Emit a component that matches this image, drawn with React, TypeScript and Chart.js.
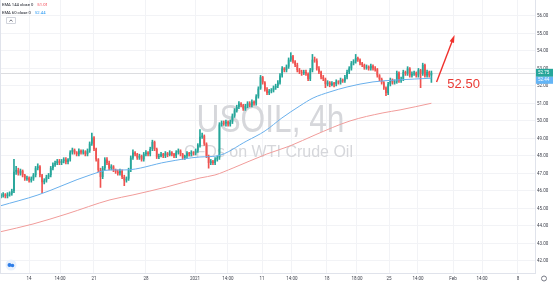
import React, { useEffect, useRef } from "react";
import { Chart, registerables } from "chart.js";
Chart.register(...registerables);

// ---- data (4h candles, USOIL) ----
const OPEN = [
  45.70, 45.75, 45.80, 45.70, 45.80, 45.85, 46.00, 47.10, 47.20, 47.00,
  47.15, 46.90, 46.70, 46.75, 46.60, 46.70, 46.90, 47.30, 47.40, 46.90,
  46.50, 46.60, 46.80, 46.90, 47.30, 47.50, 47.60, 47.70, 47.60, 47.70,
  47.80, 47.65, 47.80, 48.20, 48.35, 48.20, 48.10, 48.30, 48.20, 48.25,
  48.10, 48.30, 48.70, 49.05, 48.40, 47.80, 47.20, 46.80, 47.30, 47.80,
  47.60, 47.30, 47.40, 47.20, 47.10, 47.00, 47.15, 46.80, 46.60, 46.70,
  47.20, 47.90, 48.20, 48.10, 47.90, 48.00, 47.80, 48.10, 48.20, 48.10,
  48.40, 48.80, 48.40, 47.95, 48.00, 48.10, 48.00, 48.15, 48.05, 48.20,
  48.10, 48.00, 48.20, 48.30, 48.10, 47.90, 48.00, 48.15, 48.10, 48.20,
  48.15, 48.30, 48.60, 49.10, 49.15, 48.70, 48.00, 47.60, 47.70, 47.60,
  47.80, 47.90, 49.80, 49.90, 49.85, 49.95, 49.80, 49.95, 50.30, 50.60,
  50.80, 51.00, 50.90, 50.70, 50.85, 51.00, 50.90, 51.10, 51.00, 51.40,
  51.85, 52.50, 52.20, 51.80, 51.60, 51.70, 51.75, 51.90, 52.00, 52.20,
  52.60, 53.00, 52.90, 53.10, 53.50, 53.70, 53.40, 53.20, 52.90, 52.80,
  52.75, 52.80, 52.70, 52.40, 52.90, 53.50, 53.45, 53.00, 52.80, 52.50,
  52.40, 52.10, 52.20, 52.05, 52.15, 52.10, 52.25, 52.20, 52.35, 52.30,
  52.50, 52.80, 53.00, 53.30, 53.40, 53.60, 53.50, 53.30, 53.20, 53.05,
  53.10, 53.00, 53.15, 53.00, 52.95, 52.60, 52.40, 52.20, 51.90, 51.60,
  52.10, 52.35, 52.20, 52.25, 52.75, 52.30, 52.40, 52.80, 52.70, 53.00,
  52.60, 52.70, 52.75, 52.60, 52.90, 52.70, 53.20, 52.60, 52.80, 52.60,
];
const HIGH = [
  45.85, 45.90, 45.85, 45.90, 45.95, 46.10, 47.80, 47.40, 47.30, 47.25,
  47.20, 46.95, 46.85, 46.80, 46.80, 47.00, 47.40, 47.55, 47.45, 46.95,
  46.70, 46.90, 47.00, 47.40, 47.60, 47.70, 47.80, 47.80, 47.80, 47.90,
  47.90, 47.85, 48.30, 48.45, 48.40, 48.25, 48.40, 48.35, 48.35, 48.30,
  48.40, 48.80, 49.30, 49.10, 48.45, 47.85, 47.30, 47.40, 47.90, 47.90,
  47.70, 47.50, 47.45, 47.25, 47.20, 47.25, 47.20, 46.90, 46.80, 47.30,
  48.00, 48.35, 48.25, 48.15, 48.10, 48.05, 48.20, 48.30, 48.25, 48.50,
  48.90, 48.85, 48.45, 48.10, 48.20, 48.15, 48.25, 48.20, 48.30, 48.25,
  48.15, 48.30, 48.40, 48.35, 48.15, 48.05, 48.25, 48.20, 48.30, 48.25,
  48.40, 48.70, 49.50, 49.30, 49.20, 48.75, 48.05, 47.80, 47.75, 47.90,
  48.00, 49.90, 50.00, 50.00, 50.05, 50.00, 50.05, 50.40, 50.70, 50.90,
  51.10, 51.05, 50.95, 50.95, 51.10, 51.10, 51.20, 51.15, 51.50, 51.95,
  52.60, 52.55, 52.25, 51.90, 51.80, 51.85, 52.00, 52.10, 52.30, 52.70,
  53.10, 53.05, 53.20, 53.60, 53.90, 53.75, 53.45, 53.30, 53.00, 52.90,
  52.90, 52.90, 52.75, 53.00, 53.80, 53.65, 53.55, 53.10, 52.85, 52.60,
  52.45, 52.30, 52.25, 52.25, 52.20, 52.35, 52.30, 52.45, 52.40, 52.60,
  52.90, 53.10, 53.40, 53.50, 53.80, 53.65, 53.55, 53.35, 53.25, 53.20,
  53.15, 53.25, 53.20, 53.10, 53.00, 52.65, 52.45, 52.25, 51.95, 52.20,
  52.45, 52.40, 52.35, 52.85, 52.80, 52.50, 52.90, 52.85, 53.10, 53.05,
  52.80, 52.85, 52.80, 53.00, 52.95, 53.30, 53.25, 52.90, 52.85, 52.85,
];
const LOW = [
  45.60, 45.65, 45.60, 45.60, 45.70, 45.75, 45.90, 46.95, 46.90, 46.90,
  46.80, 46.60, 46.60, 46.50, 46.50, 46.60, 46.80, 47.20, 46.80, 45.90,
  46.40, 46.50, 46.70, 46.80, 47.20, 47.40, 47.50, 47.50, 47.50, 47.60,
  47.55, 47.55, 47.70, 48.10, 48.10, 48.00, 48.00, 48.10, 48.10, 48.00,
  48.00, 48.20, 48.60, 48.30, 47.70, 47.10, 46.20, 46.70, 47.20, 47.50,
  47.20, 47.20, 47.10, 47.00, 46.90, 46.90, 46.70, 46.30, 46.50, 46.60,
  47.10, 47.80, 48.00, 47.80, 47.80, 47.70, 47.70, 48.00, 48.00, 48.00,
  48.30, 48.30, 47.85, 47.85, 47.95, 47.90, 47.90, 47.95, 48.00, 48.00,
  47.90, 47.90, 48.10, 48.00, 47.80, 47.80, 47.90, 48.00, 48.00, 48.05,
  48.05, 48.20, 48.50, 49.00, 48.60, 47.90, 47.30, 47.50, 47.50, 47.50,
  47.70, 47.80, 49.70, 49.75, 49.70, 49.70, 49.70, 49.85, 50.20, 50.50,
  50.70, 50.80, 50.60, 50.60, 50.75, 50.80, 50.80, 50.90, 50.90, 51.30,
  51.80, 52.10, 51.70, 51.50, 51.50, 51.60, 51.65, 51.80, 51.90, 52.10,
  52.50, 52.80, 52.80, 53.00, 53.40, 53.30, 53.10, 52.80, 52.70, 52.60,
  52.65, 52.60, 52.30, 52.30, 52.80, 53.35, 52.90, 52.70, 52.40, 52.30,
  51.90, 52.00, 51.95, 52.00, 51.95, 52.00, 52.10, 52.10, 52.20, 52.20,
  52.40, 52.70, 52.90, 53.20, 53.30, 53.40, 53.20, 53.10, 52.95, 52.95,
  52.90, 52.90, 52.90, 52.85, 52.50, 52.30, 52.10, 51.80, 51.45, 51.50,
  52.00, 52.10, 52.10, 52.15, 52.20, 52.20, 52.30, 52.60, 52.60, 52.50,
  52.50, 52.60, 52.50, 52.50, 51.90, 52.60, 52.50, 52.50, 52.50, 52.20,
];
const CLOSE = [
  45.75, 45.80, 45.70, 45.80, 45.85, 46.00, 47.10, 47.20, 47.00, 47.15,
  46.90, 46.70, 46.75, 46.60, 46.70, 46.90, 47.30, 47.40, 46.90, 46.50,
  46.60, 46.80, 46.90, 47.30, 47.50, 47.60, 47.70, 47.60, 47.70, 47.80,
  47.65, 47.80, 48.20, 48.35, 48.20, 48.10, 48.30, 48.20, 48.25, 48.10,
  48.30, 48.70, 49.05, 48.40, 47.80, 47.20, 46.80, 47.30, 47.80, 47.60,
  47.30, 47.40, 47.20, 47.10, 47.00, 47.15, 46.80, 46.60, 46.70, 47.20,
  47.90, 48.20, 48.10, 47.90, 48.00, 47.80, 48.10, 48.20, 48.10, 48.40,
  48.80, 48.40, 47.95, 48.00, 48.10, 48.00, 48.15, 48.05, 48.20, 48.10,
  48.00, 48.20, 48.30, 48.10, 47.90, 48.00, 48.15, 48.10, 48.20, 48.15,
  48.30, 48.60, 49.10, 49.15, 48.70, 48.00, 47.60, 47.70, 47.60, 47.80,
  47.90, 49.80, 49.90, 49.85, 49.95, 49.80, 49.95, 50.30, 50.60, 50.80,
  51.00, 50.90, 50.70, 50.85, 51.00, 50.90, 51.10, 51.00, 51.40, 51.85,
  52.50, 52.20, 51.80, 51.60, 51.70, 51.75, 51.90, 52.00, 52.20, 52.60,
  53.00, 52.90, 53.10, 53.50, 53.70, 53.40, 53.20, 52.90, 52.80, 52.75,
  52.80, 52.70, 52.40, 52.90, 53.50, 53.45, 53.00, 52.80, 52.50, 52.40,
  52.10, 52.20, 52.05, 52.15, 52.10, 52.25, 52.20, 52.35, 52.30, 52.50,
  52.80, 53.00, 53.30, 53.40, 53.60, 53.50, 53.30, 53.20, 53.05, 53.10,
  53.00, 53.15, 53.00, 52.95, 52.60, 52.40, 52.20, 51.90, 51.60, 52.10,
  52.35, 52.20, 52.25, 52.75, 52.30, 52.40, 52.80, 52.70, 53.00, 52.60,
  52.70, 52.75, 52.60, 52.90, 52.70, 53.20, 52.60, 52.80, 52.60, 52.75,
];

// EMA lines (bar index, value)
const EMA60_X = [-0.5, 17.1, 41.2, 50.4, 57.3, 76.7, 92.0, 99.9, 113.7, 122.1, 129.9, 138.2, 144.3, 152.1, 160.0, 172.0, 183.1, 199];
const EMA60_Y = [45.14, 45.77, 46.91, 47.2, 47.2, 47.66, 47.94, 48.0, 48.86, 49.43, 50.17, 50.86, 51.31, 51.66, 51.94, 52.23, 52.34, 52.44];
const EMA144_X = [-0.5, 14.8, 30.5, 50.4, 61.0, 76.7, 92.0, 98.9, 107.3, 122.9, 133.6, 145.2, 161.4, 176.6, 184.5, 199];
const EMA144_Y = [43.66, 44.11, 44.69, 45.49, 45.77, 46.23, 46.74, 46.91, 47.31, 48.11, 48.57, 49.2, 50.0, 50.46, 50.63, 51.01];

const X_TICK_POS = [13, 27.3, 43.0, 67.0, 89.7, 104.9, 120.7, 134.5, 150.7, 164.6, 179.4, 192.8, 209.0, 222.4, 239.0];
const X_TICK_LABELS = ["14", "14:00", "21", "28", "2021", "14:00", "11", "14:00", "18", "18:00", "25", "14:00", "Feb", "14:00", "8"];
const Y_TICKS = [42, 43, 44, 45, 46, 47, 48, 49, 50, 51, 52, 53, 54, 55, 56, 57];

const LEGEND_NAMES = ["EMA 144 close 0", "EMA 60 close 0"];
const WATERMARK_TITLE = "USOIL, 4h";
const WATERMARK_SUB = "CFDs on WTI Crude Oil";
const TARGET_TEXT = "52.50";
const ARROW_FROM = [201.4, 52.23];
const ARROW_TO = [209.7, 54.91];
const TARGET_AT = [213.9, 52.06];

// ---- view / style ----
const X_MIN = -0.46;
const X_MAX = 246.9;
const Y_MIN = 41.31;
const Y_MAX = 56.91;
const GREEN = "#26a69a";
const RED = "#ef5350";
const EMA60_COLOR = "#6ab0ec";
const EMA144_COLOR = "#f19c9a";
const GRID = "#f2f3f6";
const AXIS_LINE = "#e0e3eb";
const TEXT = "#3c3f4a";
const FONT = "Roboto, 'Liberation Sans', Arial, sans-serif";

const overlay = {
  id: "overlay",
  beforeDatasetsDraw(chart: any) {
    const { ctx, chartArea, scales } = chart;
    ctx.save();
    const cx = (chartArea.left + chartArea.right) / 2;
    ctx.fillStyle = "#d6d7db";
    ctx.textBaseline = "alphabetic";
    ctx.textAlign = "center";
    ctx.font = `39px 'Liberation Sans', Arial, sans-serif`;
    const w = ctx.measureText(WATERMARK_TITLE).width;
    ctx.save();
    ctx.translate(cx + 3, 132);
    ctx.scale(148 / w, 1);
    ctx.fillText(WATERMARK_TITLE, 0, 0);
    ctx.restore();
    ctx.font = `16px 'Liberation Sans', Arial, sans-serif`;
    ctx.fillText(WATERMARK_SUB, cx + 1, 157);
    // last price line
    const yp = Math.round(scales.y.getPixelForValue(CLOSE[CLOSE.length - 1])) + 0.5;
    ctx.strokeStyle = "#dcdde0";
    ctx.lineWidth = 1;
    ctx.beginPath();
    ctx.moveTo(chartArea.left, yp);
    ctx.lineTo(chartArea.right, yp);
    ctx.stroke();
    ctx.restore();
  },
  afterDraw(chart: any) {
    const { ctx, chartArea, scales } = chart;
    ctx.save();
    // left frame line
    ctx.strokeStyle = AXIS_LINE;
    ctx.lineWidth = 1;
    ctx.beginPath();
    ctx.moveTo(0.5, 0);
    ctx.lineTo(0.5, chartArea.bottom);
    ctx.stroke();

    // legend
    ctx.font = `4.2px ${FONT}`;
    ctx.textAlign = "left";
    ctx.textBaseline = "middle";
    const vals = [EMA144_Y[EMA144_Y.length - 1], EMA60_Y[EMA60_Y.length - 1]];
    const vcol = ["#f23645", "#2196f3"];
    LEGEND_NAMES.forEach((name, i) => {
      const y = 4.5 + i * 8.5;
      ctx.fillStyle = "#131722";
      ctx.fillText(name, 2, y);
      const tw = ctx.measureText(name).width;
      ctx.fillStyle = vcol[i];
      ctx.fillText(vals[i].toFixed(2), 2 + tw + 4, y);
    });
    // collapse button
    ctx.strokeStyle = "#d1d4dc";
    ctx.beginPath();
    ctx.rect(6.5, 17.5, 9, 6);
    ctx.stroke();
    ctx.strokeStyle = "#787b86";
    ctx.beginPath();
    ctx.moveTo(9.5, 21.5);
    ctx.lineTo(11, 19.8);
    ctx.lineTo(12.5, 21.5);
    ctx.stroke();

    // price labels on axis
    const last = CLOSE[CLOSE.length - 1];
    const yp = scales.y.getPixelForValue(last);
    const bx = chartArea.right + 1;
    ctx.fillStyle = GREEN;
    ctx.fillRect(bx, yp - 4, 553 - bx, 8);
    ctx.fillStyle = "#64b5f6";
    ctx.fillRect(bx, yp + 4, 553 - bx, 7);
    ctx.fillStyle = "#ffffff";
    ctx.font = `4.5px ${FONT}`;
    ctx.fillText(last.toFixed(2), bx + 2, yp);
    ctx.fillText(vals[1].toFixed(2), bx + 2, yp + 7.5);

    // arrow
    const x1 = scales.x.getPixelForValue(ARROW_FROM[0]);
    const y1 = scales.y.getPixelForValue(ARROW_FROM[1]);
    const x2 = scales.x.getPixelForValue(ARROW_TO[0]);
    const y2 = scales.y.getPixelForValue(ARROW_TO[1]);
    const a = Math.atan2(y2 - y1, x2 - x1);
    const hl = 8;
    ctx.strokeStyle = "#f0312c";
    ctx.fillStyle = "#f0312c";
    ctx.lineWidth = 1.4;
    ctx.beginPath();
    ctx.moveTo(x1, y1);
    ctx.lineTo(x2 - hl * 0.8 * Math.cos(a), y2 - hl * 0.8 * Math.sin(a));
    ctx.stroke();
    ctx.beginPath();
    ctx.moveTo(x2, y2);
    ctx.lineTo(x2 - hl * Math.cos(a - 0.3), y2 - hl * Math.sin(a - 0.3));
    ctx.lineTo(x2 - hl * Math.cos(a + 0.3), y2 - hl * Math.sin(a + 0.3));
    ctx.closePath();
    ctx.fill();
    // target text
    ctx.font = `13px 'Liberation Sans', Arial, sans-serif`;
    ctx.textAlign = "center";
    ctx.fillStyle = "#ea3b35";
    ctx.fillText(TARGET_TEXT, scales.x.getPixelForValue(TARGET_AT[0]), scales.y.getPixelForValue(TARGET_AT[1]));

    // logo
    ctx.fillStyle = "#e8f1fd";
    ctx.beginPath();
    ctx.arc(11, 265, 5.5, 0, Math.PI * 2);
    ctx.fill();
    ctx.fillStyle = "#2f7ee8";
    ctx.beginPath();
    ctx.arc(9.5, 265, 2, 0, Math.PI * 2);
    ctx.arc(12.5, 265.5, 1.8, 0, Math.PI * 2);
    ctx.fill();
    // gear
    ctx.strokeStyle = "#787b86";
    ctx.lineWidth = 1;
    ctx.beginPath();
    ctx.arc(544, 278.5, 2.5, 0, Math.PI * 2);
    ctx.stroke();
    ctx.restore();
  },
};

export default function App() {
  const ref = useRef<HTMLCanvasElement>(null);
  useEffect(() => {
    document.body.style.margin = "0";
    const canvas = ref.current!;
    const colors = CLOSE.map((c, i) => (c >= OPEN[i] ? GREEN : RED));
    const chart = new Chart(canvas, {
      type: "bar",
      data: {
        datasets: [
          {
            type: "line",
            data: EMA60_X.map((x, i) => ({ x, y: EMA60_Y[i] })),
            borderColor: EMA60_COLOR,
            borderWidth: 1,
            pointRadius: 0,
            cubicInterpolationMode: "monotone",
            order: 0,
          } as any,
          {
            type: "line",
            data: EMA144_X.map((x, i) => ({ x, y: EMA144_Y[i] })),
            borderColor: EMA144_COLOR,
            borderWidth: 1,
            pointRadius: 0,
            cubicInterpolationMode: "monotone",
            order: 0,
          } as any,
          {
            type: "bar",
            data: CLOSE.map((c, i) => ({ x: i, y: [OPEN[i], c] })),
            backgroundColor: colors,
            borderWidth: 0,
            barPercentage: 0.78,
            categoryPercentage: 1,
            grouped: false,
            order: 1,
          } as any,
          {
            type: "bar",
            data: CLOSE.map((_, i) => ({ x: i, y: [LOW[i], HIGH[i]] })),
            backgroundColor: colors,
            borderWidth: 0,
            barThickness: 1,
            grouped: false,
            order: 2,
          } as any,
        ],
      },
      options: {
        responsive: false,
        animation: false,
        layout: { padding: 0 },
        plugins: { legend: { display: false }, tooltip: { enabled: false } },
        scales: {
          x: {
            type: "linear",
            min: X_MIN,
            max: X_MAX,
            offset: false,
            grid: { color: GRID, drawTicks: false, offset: false },
            border: { display: true, color: AXIS_LINE },
            ticks: {
              autoSkip: false,
              maxRotation: 0,
              padding: 3,
              color: TEXT,
              font: { size: 4.5, family: FONT },
              callback: (_v: any, i: number) => X_TICK_LABELS[i] ?? "",
            },
            afterBuildTicks: (s: any) => {
              s.ticks = X_TICK_POS.map((v) => ({ value: v }));
            },
            afterFit: (s: any) => {
              s.height = 11;
              s.paddingLeft = 0;
              s.paddingRight = 0;
            },
          },
          y: {
            type: "linear",
            position: "right",
            min: Y_MIN,
            max: Y_MAX,
            grid: { color: GRID, drawTicks: false },
            border: { display: true, color: AXIS_LINE },
            ticks: {
              padding: 2,
              color: TEXT,
              font: { size: 4.5, family: FONT },
              callback: (v: any) => Number(v).toFixed(2),
            },
            afterBuildTicks: (s: any) => {
              s.ticks = Y_TICKS.map((v) => ({ value: v }));
            },
            afterFit: (s: any) => {
              s.width = 18;
              s.paddingTop = 0;
              s.paddingBottom = 0;
            },
          },
        },
      } as any,
      plugins: [overlay],
    });
    return () => chart.destroy();
  }, []);
  return (
    <div style={{ width: 553, height: 284 }}>
      <canvas ref={ref} width={553} height={284} style={{ display: "block" }} />
    </div>
  );
}
